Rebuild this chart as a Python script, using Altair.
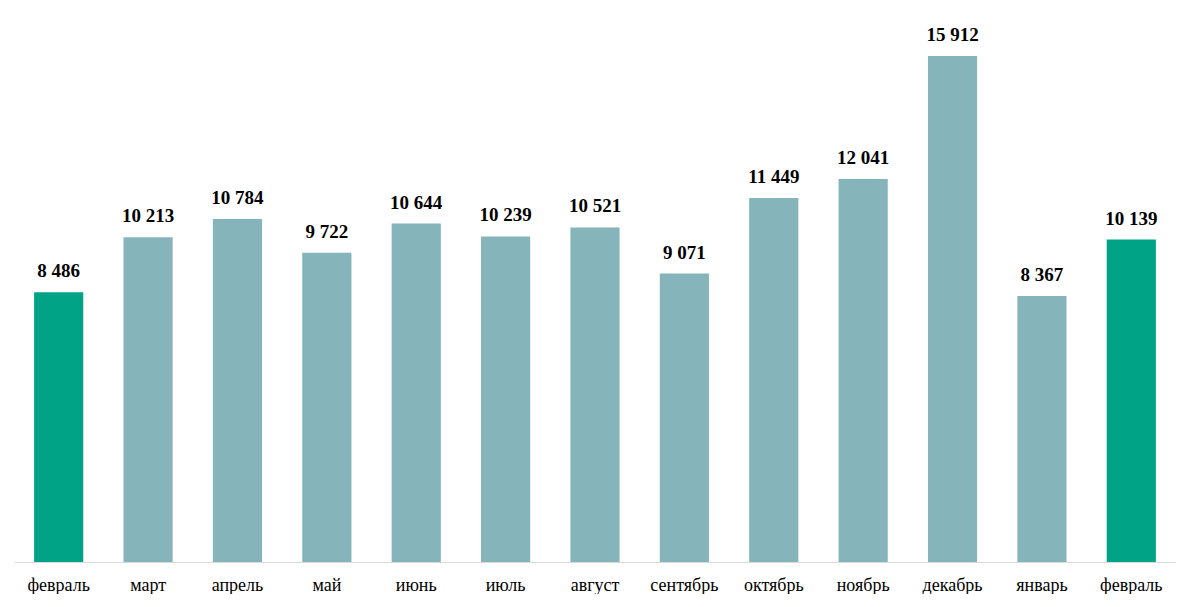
import altair as alt
import pandas as pd

months = ["февраль", "март", "апрель", "май", "июнь", "июль", "август",
          "сентябрь", "октябрь", "ноябрь", "декабрь", "январь", "февраль "]
values = [8486, 10213, 10784, 9722, 10644, 10239, 10521, 9071, 11449, 12041, 15912, 8367, 10139]
highlight = [True, False, False, False, False, False, False, False, False, False, False, False, True]

df = pd.DataFrame({"month": months, "value": values, "hl": highlight})

x = alt.X("month:N", sort=months, title=None,
          scale=alt.Scale(paddingInner=0.45, paddingOuter=0.225),
          axis=alt.Axis(labelAngle=0, labelFont="Liberation Serif", labelFontSize=18,
                        labelColor="#000000", labelPadding=14, ticks=False,
                        domainColor="#D9D9D9", domainWidth=1,
                        labelExpr="trim(datum.label)"))
y = alt.Y("value:Q", title=None, axis=None,
          scale=alt.Scale(domain=[0, 17421], nice=False))

base = alt.Chart(df).encode(x=x, y=y)

bars = base.mark_bar().encode(
    color=alt.Color("hl:N", scale=alt.Scale(domain=[True, False], range=["#00A386", "#85B4BA"]), legend=None)
)
labels = base.transform_calculate(
    lbl="replace(format(datum.value, ','), ',', ' ')"
).mark_text(dy=-11, font="Liberation Serif", fontSize=19, fontWeight="bold",
            color="#000000", baseline="bottom").encode(text="lbl:N")

chart = (bars + labels).properties(
    width=1162, height=554,
    padding={"left": 6, "top": 0, "right": 0, "bottom": 0},
    background="#FFFFFF"
).configure_view(stroke=None, strokeWidth=0)

chart.save("out.html", embed_options={"renderer": "svg", "actions": False})
